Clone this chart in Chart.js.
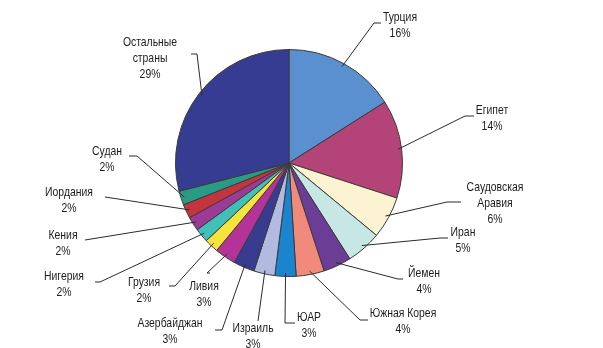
<!DOCTYPE html>
<html>
<head>
<meta charset="utf-8">
<script src="https://cdn.jsdelivr.net/npm/chart.js@4"></script>
<style>
  html, body { margin: 0; padding: 0; background: #fff; }
  #wrap { width: 603px; height: 348px; }
</style>
</head>
<body>
<div id="wrap"><canvas id="pieChart" width="603" height="348"></canvas></div>
<script>
// countries, clockwise from the top
var countries = ["Турция", "Египет", "Саудовская Аравия", "Иран", "Йемен", "Южная Корея", "ЮАР", "Израиль",
                 "Азербайджан", "Ливия", "Грузия", "Нигерия", "Кения", "Иордания", "Судан", "Остальные страны"];
var shares = [16, 14, 6, 5, 4, 4, 3, 3, 3, 3, 2, 2, 2, 2, 2, 29];
// how each name is broken over lines in the label
var labelLines = [["Турция"], ["Египет"], ["Саудовская", "Аравия"], ["Иран"], ["Йемен"], ["Южная Корея"], ["ЮАР"], ["Израиль"],
                  ["Азербайджан"], ["Ливия"], ["Грузия"], ["Нигерия"], ["Кения"], ["Иордания"], ["Судан"], ["Остальные", "страны"]];

var sliceColors = ["#5a8fd0", "#b44478", "#fbf3d2", "#c6e7e3", "#6b3d96", "#f28a7c", "#1a84cf", "#b2bae0",
                   "#383c90", "#b43398", "#f7e43a", "#40c0b8", "#9b3b95", "#c2353f", "#2b9a85", "#353c92"];

// label placement: text centre x, first line y, elbow of leader line, end of the short stub
var labelLayout = [
    {tx: 400, ty: 17,  ex: 374, ey: 23,  sx: 381},
    {tx: 492, ty: 110, ex: 465, ey: 116, sx: 474},
    {tx: 495, ty: 187, ex: 447, ey: 202, sx: 461},
    {tx: 463, ty: 232, ex: 440, ey: 238, sx: 448},
    {tx: 424, ty: 273, ex: 398, ey: 279, sx: 403},
    {tx: 403, ty: 313, ex: 360, ey: 320, sx: 368},
    {tx: 309, ty: 317, ex: 285, ey: 323, sx: 295},
    {tx: 253, ty: 328, ex: 258, ey: 321, sx: 258},
    {tx: 170, ty: 323, ex: 222, ey: 330, sx: 215},
    {tx: 204, ty: 286, ex: 207, ey: 273, sx: 210},
    {tx: 144, ty: 282, ex: 175, ey: 286, sx: 169},
    {tx: 64,  ty: 276, ex: 100, ey: 282, sx: 95},
    {tx: 63,  ty: 235, ex: 85,  ey: 240, sx: 85},
    {tx: 69,  ty: 192, ex: 105, ey: 197, sx: 105},
    {tx: 107, ty: 151, ex: 137, ey: 156, sx: 129},
    {tx: 150, ty: 42,  ex: 197, ey: 54,  sx: 191}
];

var FONT = "13px 'Liberation Sans', Arial, sans-serif";
var NARROW = 0.8; // the original uses a condensed face

// draws the country labels with their leader lines
var calloutPlugin = {
    id: "callouts",
    afterDraw: function(chart) {
        var ctx = chart.ctx;
        var arcs = chart.getDatasetMeta(0).data;
        ctx.save();
        ctx.strokeStyle = "#2a2a2a";
        ctx.lineWidth = 1;
        ctx.fillStyle = "#1c1c1c";
        ctx.font = FONT;
        ctx.textAlign = "center";
        ctx.textBaseline = "middle";
        arcs.forEach(function(arc, i) {
            var p = arc.getProps(["x", "y", "startAngle", "endAngle", "outerRadius"], true);
            var mid = (p.startAngle + p.endAngle) / 2;
            var r = p.outerRadius * 0.97;
            var lay = labelLayout[i];
            ctx.beginPath();
            ctx.moveTo(p.x + Math.cos(mid) * r, p.y + Math.sin(mid) * r);
            ctx.lineTo(lay.ex, lay.ey);
            ctx.lineTo(lay.sx, lay.ey);
            ctx.stroke();
            var lines = labelLines[i].concat([Math.round(shares[i]) + "%"]);
            lines.forEach(function(t, k) {
                ctx.save();
                ctx.translate(lay.tx, lay.ty + k * 16);
                ctx.scale(NARROW, 1);
                ctx.fillText(t, 0, 0);
                ctx.restore();
            });
        });
        ctx.restore();
    }
};

var pieChart = new Chart(document.getElementById("pieChart").getContext("2d"), {
    type: "pie",
    data: {
        labels: countries,
        datasets: [{
            data: shares,
            backgroundColor: sliceColors,
            borderColor: "#3a3a3a",
            borderWidth: 1
        }]
    },
    options: {
        responsive: false,
        animation: false,
        layout: {padding: {left: 175, right: 200, top: 48, bottom: 70}},
        plugins: {
            legend: {display: false},
            tooltip: {enabled: false}
        }
    },
    plugins: [calloutPlugin]
});
</script>
</body>
</html>
